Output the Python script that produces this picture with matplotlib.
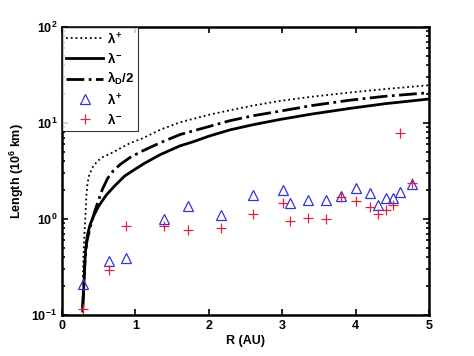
import matplotlib
matplotlib.use("Agg")
import matplotlib.pyplot as plt
from matplotlib.ticker import LogLocator, NullFormatter, FixedLocator

plt.rcParams['font.family'] = ['Liberation Sans', 'DejaVu Sans']
plt.rcParams['font.weight'] = 'bold'
plt.rcParams['mathtext.fontset'] = 'custom'
plt.rcParams['mathtext.rm'] = 'Liberation Sans:bold'
plt.rcParams['mathtext.it'] = 'Liberation Sans:bold'
plt.rcParams['mathtext.bf'] = 'Liberation Sans:bold'
plt.rcParams['mathtext.sf'] = 'Liberation Sans:bold'

# --- curves ---
R_dot = [0.285, 0.29, 0.30, 0.31, 0.32, 0.33, 0.345, 0.37, 0.42, 0.48, 0.55, 0.68,
         0.80, 0.93, 1.09, 1.35, 1.61, 2.0, 2.29, 2.6, 2.97, 3.4, 3.92, 4.4, 5.0]
lam_plus = [0.25, 0.4, 0.6, 0.85, 1.15, 1.7, 2.3, 2.9, 3.5, 4.0, 4.4, 4.9,
            5.5, 6.2, 6.9, 8.6, 10.2, 12.2, 13.6, 15.2, 17.0, 18.8, 20.8, 22.6, 24.8]

R_sol = [0.28, 0.29, 0.30, 0.31, 0.32, 0.345, 0.38, 0.43, 0.50, 0.60, 0.70, 0.85,
         0.98, 1.12, 1.34, 1.61, 1.79, 2.0, 2.29, 2.6, 2.97, 3.4, 3.92, 4.4, 5.0]
lam_minus = [0.11, 0.16, 0.23, 0.35, 0.47, 0.68, 0.87, 1.08, 1.37, 1.77, 2.15, 2.8,
             3.25, 3.8, 4.7, 5.8, 6.4, 7.3, 8.5, 9.6, 10.9, 12.4, 14.2, 15.9, 17.8]

R_dd = [0.28, 0.30, 0.32, 0.34, 0.37, 0.40, 0.44, 0.50, 0.55, 0.62, 0.70, 0.80,
        0.93, 1.09, 1.35, 1.61, 2.0, 2.29, 2.6, 2.97, 3.4, 3.92, 4.4, 5.0]
lam_D_half = [0.12, 0.25, 0.45, 0.6, 0.74, 0.92, 1.17, 1.6, 2.05, 2.65, 3.2, 3.75,
              4.4, 5.1, 6.3, 7.6, 9.2, 10.6, 11.9, 13.3, 15.2, 17.3, 19.0, 20.7]

# --- measured points ---
R_tri = [0.28, 0.64, 0.87, 1.39, 1.72, 2.17, 2.60, 3.01, 3.11, 3.35, 3.59, 3.80,
         4.00, 4.20, 4.31, 4.42, 4.51, 4.61, 4.77]
tri_vals = [0.21, 0.37, 0.395, 1.0, 1.38, 1.09, 1.77, 2.0, 1.46, 1.58, 1.58, 1.75,
            2.12, 1.85, 1.40, 1.64, 1.64, 1.91, 2.32]

R_plus = [0.28, 0.64, 0.87, 1.39, 1.72, 2.17, 2.60, 3.01, 3.11, 3.35, 3.59, 3.80,
          4.00, 4.20, 4.31, 4.42, 4.51, 4.61, 4.77]
plus_vals = [0.115, 0.294, 0.85, 0.855, 0.77, 0.81, 1.13, 1.48, 0.95, 1.02, 1.0, 1.68,
             1.55, 1.33, 1.13, 1.23, 1.40, 7.9, 2.39]

x_ticks = [0, 1, 2, 3, 4, 5]

fig = plt.figure(figsize=(4.74, 3.56), dpi=100)
ax = fig.add_axes([0.131, 0.115, 0.774, 0.809])

ax.semilogy(R_dot, lam_plus, ':', color='black', lw=1.3, label=r'$\lambda^{+}$')
ax.semilogy(R_sol, lam_minus, '-', color='black', lw=2.0, label=r'$\lambda^{-}$')
ax.semilogy(R_dd, lam_D_half, '-.', color='black', lw=2.0, label=r'$\lambda_{D}/2$')
ax.semilogy(R_tri, tri_vals, '^', color='#3434d0', mfc='none', ms=6.5, mew=0.9,
            label=r'$\lambda^{+}$')
ax.semilogy(R_plus, plus_vals, '+', color='#e02040', ms=6.5, mew=0.9,
            label=r'$\lambda^{-}$')

ax.set_xlim(0, 5)
ax.set_ylim(0.1, 100)
ax.xaxis.set_major_locator(FixedLocator(x_ticks))
ax.yaxis.set_major_locator(LogLocator(base=10))
ax.yaxis.set_minor_locator(LogLocator(base=10, subs=range(2, 10)))
ax.yaxis.set_minor_formatter(NullFormatter())

for s in ax.spines.values():
    s.set_linewidth(1.8)
ax.tick_params(which='both', direction='in', top=True, right=True,
               labelsize=9, width=1.2)
ax.tick_params(which='major', length=4)
ax.tick_params(which='minor', length=2.5)
for lab in ax.get_xticklabels() + ax.get_yticklabels():
    lab.set_fontweight('bold')

ax.set_xlabel('R (AU)', fontsize=9, fontweight='bold', labelpad=2)
ax.set_ylabel(r'Length (10$^{6}$ km)', fontsize=9, fontweight='bold', labelpad=4)

leg = ax.legend(loc='upper left', borderaxespad=0, fontsize=9.5, handlelength=2.8,
                frameon=True, fancybox=False, edgecolor='black',
                labelspacing=0.35, handletextpad=0.3, borderpad=0.3)
leg.get_frame().set_linewidth(0.8)

fig.savefig('out.png', dpi=100)
